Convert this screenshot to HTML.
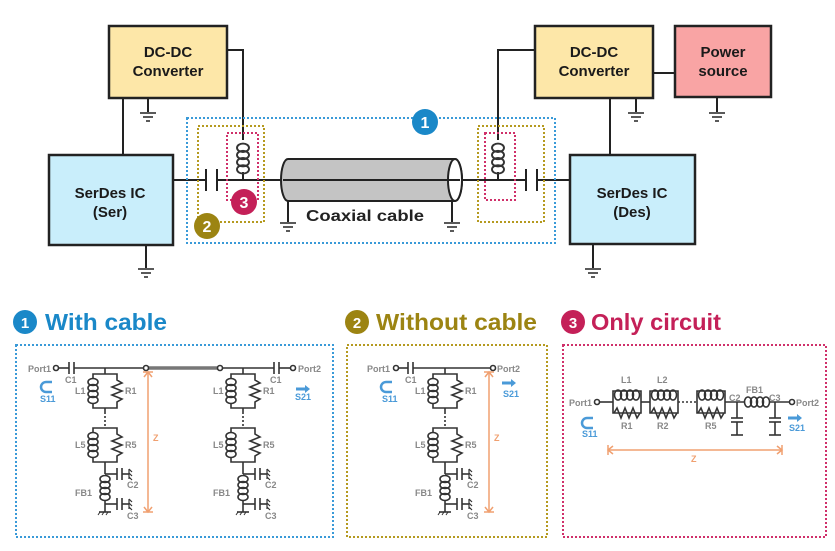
<!DOCTYPE html>
<html><head><meta charset="utf-8"><style>
html,body{margin:0;padding:0;background:#fff;}
svg{display:block;font-family:"Liberation Sans",sans-serif;}
.bt{font-size:15px;font-weight:bold;fill:#1a1a1a;}
.sm{font-size:9px;font-weight:bold;fill:#888;}
.bl{font-size:9px;font-weight:bold;fill:#4a9ad8;}
</style></head><body>
<svg width="835" height="551" viewBox="0 0 835 551" xmlns="http://www.w3.org/2000/svg">
<defs>
  <g id="gnd" stroke="#222" stroke-width="1.5"><line x1="-8" y1="0" x2="8" y2="0"/><line x1="-5" y1="4" x2="5" y2="4"/><line x1="-2" y1="8" x2="2" y2="8"/></g>
  <g id="coilv" fill="none" stroke="#333" stroke-width="1.6">
    <ellipse cx="0" cy="4" rx="5" ry="3.5"/><ellipse cx="0" cy="10" rx="5" ry="3.5"/><ellipse cx="0" cy="16" rx="5" ry="3.5"/><ellipse cx="0" cy="22" rx="5" ry="3.5"/>
  </g>
  <g id="coilh" fill="none" stroke="#333" stroke-width="1.6">
    <ellipse cx="4" cy="0" rx="3.5" ry="5"/><ellipse cx="10" cy="0" rx="3.5" ry="5"/><ellipse cx="16" cy="0" rx="3.5" ry="5"/><ellipse cx="22" cy="0" rx="3.5" ry="5"/>
  </g>
  <g id="hgnd" stroke="#333" stroke-width="1.2"><line x1="0" y1="-5" x2="0" y2="5"/><line x1="0" y1="-5" x2="3" y2="-2"/><line x1="0" y1="-1" x2="3" y2="2"/><line x1="0" y1="3" x2="3" y2="6"/></g>
  <g id="lr" fill="none" stroke="#333" stroke-width="1.6">
    <path d="M-12 4 V0 H12 V4 M-12 30 V34 H12 V30"/>
    <use href="#coilv" x="-12" y="4"/>
    <path d="M12 4 L12 6 L17 9 L7 13 L17 17 L7 21 L17 25 L12 28 L12 30"/>
  </g>
  <g id="branch" fill="none" stroke="#333" stroke-width="1.6">
    <line x1="0" y1="0" x2="0" y2="6"/>
    <use href="#lr" y="6"/>
    <line x1="0" y1="40" x2="0" y2="44"/>
    <line x1="0" y1="44" x2="0" y2="60" stroke-dasharray="2,2"/>
    <use href="#lr" y="60"/>
    <line x1="0" y1="94" x2="0" y2="106"/>
    <line x1="0" y1="106" x2="12" y2="106"/>
    <line x1="12" y1="100" x2="12" y2="112"/><line x1="17" y1="100" x2="17" y2="112"/><line x1="17" y1="106" x2="24" y2="106"/>
    <use href="#hgnd" x="24" y="106"/>
    <use href="#coilv" x="0" y="107"/>
    <line x1="0" y1="133" x2="0" y2="144"/>
    <line x1="0" y1="136" x2="12" y2="136"/>
    <line x1="12" y1="130" x2="12" y2="142"/><line x1="17" y1="130" x2="17" y2="142"/><line x1="17" y1="136" x2="24" y2="136"/>
    <use href="#hgnd" x="24" y="136"/>
    <line x1="-6" y1="144" x2="6" y2="144"/>
    <path d="M-5 144 l-2 3 M-1 144 l-2 3 M3 144 l-2 3" stroke-width="1"/>
  </g>
  <g id="blabels">
    <text class="sm" x="-30" y="26">L1</text><text class="sm" x="20" y="26">R1</text>
    <text class="sm" x="-30" y="80">L5</text><text class="sm" x="20" y="80">R5</text>
    <text class="sm" x="-30" y="128">FB1</text>
    <text class="sm" x="22" y="120">C2</text><text class="sm" x="22" y="151">C3</text>
  </g>
</defs>

<!-- Top diagram -->
<g stroke="#222" stroke-width="2" fill="none">
  <line x1="123" y1="98" x2="123" y2="154"/>
  <line x1="148" y1="98" x2="148" y2="112"/>
  <polyline points="227,50 243,50 243,140"/>
  <line x1="173" y1="180" x2="206" y2="180"/>
  <line x1="218" y1="180" x2="283" y2="180"/>
  <line x1="243" y1="172" x2="243" y2="180"/>
  <line x1="146" y1="245" x2="146" y2="268"/>
  <line x1="288" y1="199" x2="288" y2="222"/>
  <line x1="452" y1="199" x2="452" y2="222"/>
  <line x1="460" y1="180" x2="526" y2="180"/>
  <line x1="538" y1="180" x2="570" y2="180"/>
  <polyline points="535,50 498,50 498,140"/>
  <line x1="498" y1="172" x2="498" y2="180"/>
  <line x1="610" y1="98" x2="610" y2="154"/>
  <line x1="636" y1="98" x2="636" y2="112"/>
  <line x1="653" y1="73" x2="675" y2="73"/>
  <line x1="717" y1="97" x2="717" y2="112"/>
  <line x1="593" y1="244" x2="593" y2="268"/>
  <line x1="206" y1="169" x2="206" y2="191"/><line x1="217" y1="169" x2="217" y2="191"/>
  <line x1="526" y1="169" x2="526" y2="191"/><line x1="537" y1="169" x2="537" y2="191"/>
</g>
<use href="#coilv" x="243" y="143" transform="translate(243,143) scale(1.2) translate(-243,-143)"/>
<use href="#coilv" x="498" y="143" transform="translate(498,143) scale(1.2) translate(-498,-143)"/>
<use href="#gnd" x="148" y="113"/><use href="#gnd" x="146" y="269"/>
<use href="#gnd" x="288" y="223"/><use href="#gnd" x="452" y="223"/>
<use href="#gnd" x="636" y="113"/><use href="#gnd" x="717" y="113"/><use href="#gnd" x="593" y="269"/>

<!-- cable -->
<path d="M288 159 H455 A7 21 0 0 1 455 201 H288 A7 21 0 0 1 288 159 Z" fill="#c4c4c4" stroke="#222" stroke-width="2"/>
<ellipse cx="455" cy="180" rx="7" ry="21" fill="#fff" stroke="#222" stroke-width="2"/>
<line x1="283" y1="180" x2="460" y2="180" stroke="#222" stroke-width="2"/>
<text x="306" y="221" textLength="118" lengthAdjust="spacingAndGlyphs" style="font-size:16px;font-weight:bold;fill:#222">Coaxial cable</text>

<!-- boxes -->
<rect x="109" y="26" width="118" height="72" fill="#fde7a8" stroke="#222" stroke-width="2.5"/>
<text class="bt" x="168" y="57" text-anchor="middle">DC-DC</text><text class="bt" x="168" y="76" text-anchor="middle">Converter</text>
<rect x="49" y="155" width="124" height="90" fill="#c9eefb" stroke="#222" stroke-width="2.5"/>
<text class="bt" x="110" y="198" text-anchor="middle">SerDes IC</text><text class="bt" x="110" y="217" text-anchor="middle">(Ser)</text>
<rect x="535" y="26" width="118" height="72" fill="#fde7a8" stroke="#222" stroke-width="2.5"/>
<text class="bt" x="594" y="57" text-anchor="middle">DC-DC</text><text class="bt" x="594" y="76" text-anchor="middle">Converter</text>
<rect x="675" y="26" width="96" height="71" fill="#f9a4a4" stroke="#222" stroke-width="2.5"/>
<text class="bt" x="723" y="57" text-anchor="middle">Power</text><text class="bt" x="723" y="76" text-anchor="middle">source</text>
<rect x="570" y="155" width="125" height="89" fill="#c9eefb" stroke="#222" stroke-width="2.5"/>
<text class="bt" x="632" y="198" text-anchor="middle">SerDes IC</text><text class="bt" x="632" y="217" text-anchor="middle">(Des)</text>

<!-- dotted regions top -->
<g fill="none" stroke-width="2" stroke-dasharray="2,2">
  <rect x="187" y="118" width="368" height="125" stroke="#3a9ad8"/>
  <rect x="198" y="126" width="66" height="96" stroke="#b59a20"/>
  <rect x="227" y="133" width="31" height="67" stroke="#d0306a"/>
  <rect x="478" y="126" width="66" height="96" stroke="#b59a20"/>
  <rect x="485" y="133" width="30" height="67" stroke="#d0306a"/>
</g>
<circle cx="425" cy="122" r="13" fill="#1a88c8"/><text x="425" y="128" text-anchor="middle" style="font-size:16px;font-weight:bold;fill:#fff">1</text>
<circle cx="244" cy="202" r="13" fill="#c42058"/><text x="244" y="208" text-anchor="middle" style="font-size:16px;font-weight:bold;fill:#fff">3</text>
<circle cx="207" cy="226" r="13" fill="#9c8412"/><text x="207" y="232" text-anchor="middle" style="font-size:16px;font-weight:bold;fill:#fff">2</text>

<!-- titles -->
<circle cx="25" cy="322" r="12" fill="#1a88c8"/><text x="25" y="328" text-anchor="middle" style="font-size:15px;font-weight:bold;fill:#fff">1</text>
<text x="45" y="330" textLength="122" lengthAdjust="spacingAndGlyphs" style="font-size:23px;font-weight:bold;fill:#1a88c8">With cable</text>
<circle cx="357" cy="322" r="12" fill="#9c8412"/><text x="357" y="328" text-anchor="middle" style="font-size:15px;font-weight:bold;fill:#fff">2</text>
<text x="376" y="330" textLength="161" lengthAdjust="spacingAndGlyphs" style="font-size:23px;font-weight:bold;fill:#9c8412">Without cable</text>
<circle cx="573" cy="322" r="12" fill="#c42058"/><text x="573" y="328" text-anchor="middle" style="font-size:15px;font-weight:bold;fill:#fff">3</text>
<text x="591" y="330" textLength="130" lengthAdjust="spacingAndGlyphs" style="font-size:23px;font-weight:bold;fill:#c42058">Only circuit</text>

<g fill="none" stroke-width="2" stroke-dasharray="2,2">
  <rect x="16" y="345" width="317" height="192" stroke="#3a9ad8"/>
  <rect x="347" y="345" width="200" height="192" stroke="#b59a20"/>
  <rect x="563" y="345" width="263" height="192" stroke="#d0306a"/>
</g>

<!-- Box 1 -->
<g stroke="#333" stroke-width="1.6" fill="none">
  <circle cx="56" cy="368" r="2.5" fill="#fff"/>
  <line x1="58" y1="368" x2="69" y2="368"/><line x1="69" y1="362" x2="69" y2="374"/><line x1="74" y1="362" x2="74" y2="374"/>
  <line x1="74" y1="368" x2="144" y2="368"/>
  <line x1="148" y1="368" x2="218" y2="368" stroke="#777" stroke-width="3.5"/>
  <circle cx="146" cy="368" r="2.5" fill="#fff"/><circle cx="220" cy="368" r="2.5" fill="#fff"/>
  <line x1="222" y1="368" x2="274" y2="368"/><line x1="274" y1="362" x2="274" y2="374"/><line x1="279" y1="362" x2="279" y2="374"/>
  <line x1="279" y1="368" x2="290" y2="368"/><circle cx="293" cy="368" r="2.5" fill="#fff"/>
</g>
<use href="#branch" x="105" y="368"/><use href="#blabels" x="105" y="368"/>
<use href="#branch" x="243" y="368"/><use href="#blabels" x="243" y="368"/>
<text class="sm" x="28" y="372">Port1</text><text class="sm" x="298" y="372">Port2</text>
<text class="sm" x="65" y="383">C1</text><text class="sm" x="270" y="383">C1</text>
<path d="M52 382 H46 A5 5 0 0 0 46 392 H52" fill="none" stroke="#4a9ad8" stroke-width="2.5"/>
<text class="bl" x="40" y="402">S11</text>
<path d="M296 389 H306" stroke="#4a9ad8" stroke-width="3"/><path d="M305 385 L310 389 L305 393Z" fill="#4a9ad8"/>
<text class="bl" x="295" y="400">S21</text>
<g stroke="#f0a070" stroke-width="1.5" fill="none"><line x1="148" y1="372" x2="148" y2="512"/><path d="M144 377 L148 372 L152 377 M144 507 L148 512 L152 507 M143 372 H153 M143 512 H153"/></g>
<text x="153" y="441" style="font-size:9px;font-weight:bold;fill:#f0a070">Z</text>

<!-- Box 2 -->
<g stroke="#333" stroke-width="1.6" fill="none">
  <circle cx="396" cy="368" r="2.5" fill="#fff"/>
  <line x1="398" y1="368" x2="408" y2="368"/><line x1="408" y1="362" x2="408" y2="374"/><line x1="413" y1="362" x2="413" y2="374"/>
  <line x1="413" y1="368" x2="490" y2="368"/><circle cx="493" cy="368" r="2.5" fill="#fff"/>
</g>
<use href="#branch" x="445" y="368"/><use href="#blabels" x="445" y="368"/>
<text class="sm" x="367" y="372">Port1</text><text class="sm" x="497" y="372">Port2</text>
<text class="sm" x="405" y="383">C1</text>
<path d="M392 382 H386 A5 5 0 0 0 386 392 H392" fill="none" stroke="#4a9ad8" stroke-width="2.5"/>
<text class="bl" x="382" y="402">S11</text>
<path d="M502 383 H512" stroke="#4a9ad8" stroke-width="3"/><path d="M511 379 L516 383 L511 387Z" fill="#4a9ad8"/>
<text class="bl" x="503" y="397">S21</text>
<g stroke="#f0a070" stroke-width="1.5" fill="none"><line x1="489" y1="372" x2="489" y2="512"/><path d="M485 377 L489 372 L493 377 M485 507 L489 512 L493 507 M484 372 H494 M484 512 H494"/></g>
<text x="494" y="441" style="font-size:9px;font-weight:bold;fill:#f0a070">Z</text>

<!-- Box 3 -->
<g stroke="#333" stroke-width="1.6" fill="none">
  <circle cx="597" cy="402" r="2.5" fill="#fff"/>
  <line x1="599" y1="402" x2="613" y2="402"/>
  <path d="M613 402 V391 H641 V402 M613 402 V413 H641 V402"/>
  <use href="#coilh" x="614" y="395"/>
  <path d="M614 413 l3 -5 l4 10 l4 -10 l4 10 l4 -10 l4 10 l3 -5"/>
  <line x1="641" y1="402" x2="650" y2="402"/>
  <path d="M650 402 V391 H678 V402 M650 402 V413 H678 V402"/>
  <use href="#coilh" x="651" y="395"/>
  <path d="M651 413 l3 -5 l4 10 l4 -10 l4 10 l4 -10 l4 10 l3 -5"/>
  <line x1="678" y1="402" x2="697" y2="402" stroke-dasharray="2,2"/>
  <path d="M697 402 V391 H725 V402 M697 402 V413 H725 V402"/>
  <use href="#coilh" x="698" y="395"/>
  <path d="M698 413 l3 -5 l4 10 l4 -10 l4 10 l4 -10 l4 10 l3 -5"/>
  <line x1="725" y1="402" x2="745" y2="402"/>
  <line x1="737" y1="402" x2="737" y2="418"/><line x1="731" y1="418" x2="743" y2="418"/><line x1="731" y1="422" x2="743" y2="422"/><line x1="737" y1="422" x2="737" y2="435"/>
  <line x1="731" y1="435" x2="743" y2="435"/>
  <use href="#coilh" x="744" y="402"/>
  <line x1="769" y1="402" x2="790" y2="402"/>
  <line x1="775" y1="402" x2="775" y2="418"/><line x1="769" y1="418" x2="781" y2="418"/><line x1="769" y1="422" x2="781" y2="422"/><line x1="775" y1="422" x2="775" y2="435"/>
  <line x1="769" y1="435" x2="781" y2="435"/>
  <circle cx="792" cy="402" r="2.5" fill="#fff"/>
</g>
<text class="sm" x="569" y="406">Port1</text><text class="sm" x="796" y="406">Port2</text>
<text class="sm" x="621" y="383">L1</text><text class="sm" x="657" y="383">L2</text>
<text class="sm" x="621" y="429">R1</text><text class="sm" x="657" y="429">R2</text><text class="sm" x="705" y="429">R5</text>
<text class="sm" x="729" y="401">C2</text><text class="sm" x="746" y="393">FB1</text><text class="sm" x="769" y="401">C3</text>
<path d="M593 418 H587 A5 5 0 0 0 587 428 H593" fill="none" stroke="#4a9ad8" stroke-width="2.5"/>
<text class="bl" x="582" y="437">S11</text>
<path d="M788 418 H798" stroke="#4a9ad8" stroke-width="3"/><path d="M797 414 L802 418 L797 422Z" fill="#4a9ad8"/>
<text class="bl" x="789" y="431">S21</text>
<g stroke="#f0a070" stroke-width="1.5" fill="none"><line x1="608" y1="450" x2="782" y2="450"/><path d="M613 446 L608 450 L613 454 M777 446 L782 450 L777 454 M608 445 V455 M782 445 V455"/></g>
<text x="691" y="462" style="font-size:9px;font-weight:bold;fill:#f0a070">Z</text>
</svg>
</body></html>
